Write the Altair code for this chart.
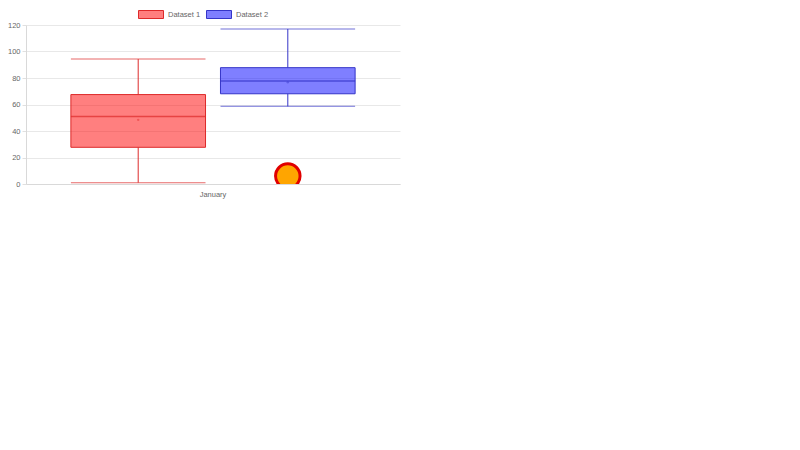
import altair as alt
import pandas as pd

# values
datasets = ["Dataset 1", "Dataset 2"]
months = ["January", "January"]
whisker_min = [1.0, 58.6]
q1 = [27.7, 68.1]
median = [51.0, 77.8]
q3 = [67.5, 87.8]
whisker_max = [94.3, 117.0]
means = [48.4, 76.7]

outlier_sets = ["Dataset 2"]
outlier_months = ["January"]
outlier_values = [6.0]

y_ticks = [0, 20, 40, 60, 80, 100, 120]

fill_colors = ["rgba(255,0,0,0.5)", "rgba(0,0,255,0.5)"]
line_colors = ["#dd2a2a", "#3535c8"]

box_df = pd.DataFrame({
    "month": months,
    "dataset": datasets,
    "set": datasets,  # copy used by the line layers so they stay out of the legend
    "min": whisker_min,
    "q1": q1,
    "median": median,
    "q3": q3,
    "max": whisker_max,
    "mean": means,
})
out_df = pd.DataFrame({
    "month": outlier_months,
    "dataset": outlier_sets,
    "value": outlier_values,
})

box_w = 134.6
font = "Liberation Sans"

y_scale = alt.Scale(domain=[0, 120], nice=False)
y_axis = alt.Axis(values=y_ticks, title=None, labelOverlap=False, tickCount=7)


def y(field):
    return alt.Y(field, scale=y_scale, axis=y_axis)


x_enc = alt.X("month:N", title=None,
              scale=alt.Scale(paddingInner=0.2, paddingOuter=0.1),
              axis=alt.Axis(labelAngle=0, ticks=False, labelPadding=6, grid=False))
xo_enc = alt.XOffset("dataset:N", scale=alt.Scale(domain=datasets, paddingInner=0.1, paddingOuter=0.05))
# no explicit domain here: a legend-less scale with the same domain would swallow the legend
line_color = alt.Color("set:N", scale=alt.Scale(range=line_colors), legend=None)

legend = alt.Legend(orient="none", direction="horizontal",
                    legendX=112, legendY=-23.5, padding=0,
                    symbolType="M-1,-0.32H1V0.32H-1Z", symbolSize=625,
                    symbolStrokeWidth=1, labelOffset=4, columnPadding=3)

base = alt.Chart(box_df).encode(x=x_enc, xOffset=xo_enc)

low_whisker = base.mark_rule(strokeWidth=1).encode(y=y("min:Q"), y2="q1:Q", color=line_color)
high_whisker = base.mark_rule(strokeWidth=1).encode(y=y("q3:Q"), y2="max:Q", color=line_color)

cap_min = base.mark_tick(orient="horizontal", size=box_w, thickness=1).encode(
    y=y("min:Q"), color=line_color)
cap_max = base.mark_tick(orient="horizontal", size=box_w, thickness=1).encode(
    y=y("max:Q"), color=line_color)

boxes = base.mark_bar(strokeWidth=1, fillOpacity=1).encode(
    y=y("q1:Q"),
    y2="q3:Q",
    fill=alt.Fill("dataset:N", scale=alt.Scale(domain=datasets, range=fill_colors),
                  title=None, legend=legend),
    stroke=alt.Stroke("dataset:N", scale=alt.Scale(domain=datasets, range=line_colors),
                      title=None, legend=legend),
)

median_line = base.mark_tick(orient="horizontal", size=box_w, thickness=1.5).encode(
    y=y("median:Q"), color=line_color)

mean_dot = base.mark_point(filled=True, shape="circle", size=6, opacity=0.45).encode(
    y=y("mean:Q"), color=line_color)

outlier = alt.Chart(out_df).mark_point(
    filled=False, shape="circle", size=600, fill="orange", fillOpacity=1,
    stroke="#e00000", strokeWidth=3, opacity=1, clip=True
).encode(
    x=alt.X("month:N"),
    xOffset=alt.XOffset("dataset:N", scale=alt.Scale(domain=datasets)),
    y=y("value:Q"),
)

chart = alt.layer(
    low_whisker, high_whisker, cap_min, cap_max, boxes, median_line, mean_dot, outlier
).properties(
    width=374,
    height=159,
    padding={"left": 18, "top": 17, "right": 10, "bottom": 30},
    autosize=alt.AutoSizeParams(type="none"),
).configure_view(
    stroke=None
).configure_axis(
    labelFont=font, labelFontSize=7.5, labelColor="#666666",
    domainColor="#d9d9d9", gridColor="#e8e8e8", tickColor="#e0e0e0"
).configure_axisY(
    tickSize=4, labelPadding=2
).configure_legend(
    labelFont=font, labelFontSize=7.5, labelColor="#666666"
)

chart.save("out.html", embed_options={"renderer": "svg", "actions": False})
